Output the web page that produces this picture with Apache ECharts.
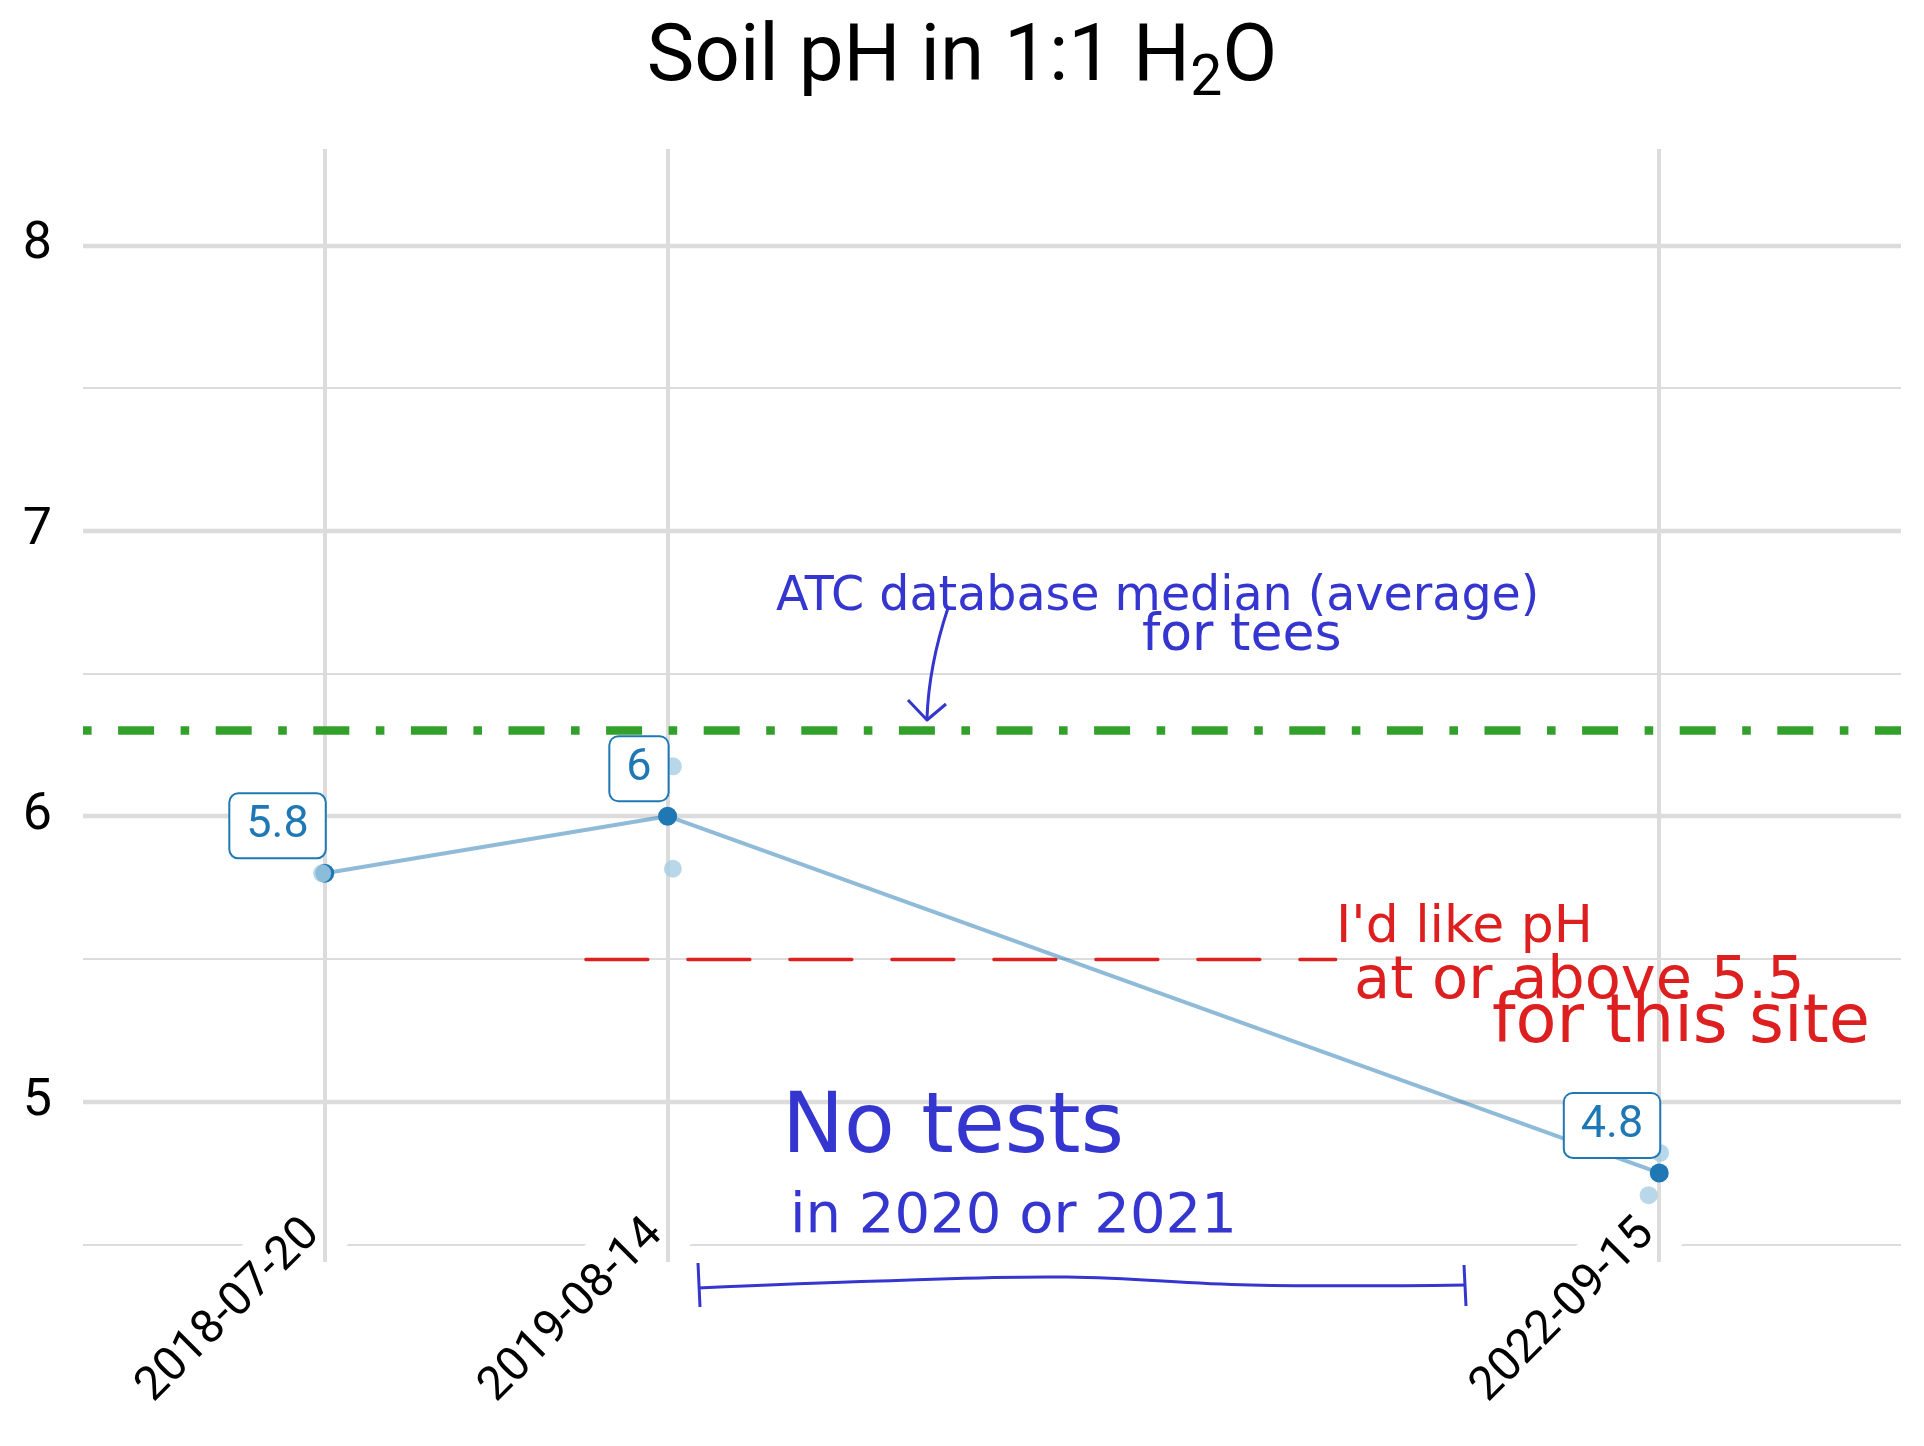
<!DOCTYPE html>
<html>
<head>
<meta charset="utf-8">
<script src="https://cdn.jsdelivr.net/npm/echarts@6/dist/echarts.min.js"></script>
<style>html,body{margin:0;padding:0;background:#fff}#c{width:1924px;height:1446px}</style>
</head>
<body>
<div id="c"></div>
<script>
// ---- data ----
const sampleDates = ['2018-07-20', '2019-08-14', '2022-09-15'];
const meanPH = [5.8, 6.0, 4.75];
const replicateGroup = [0, 1, 1, 2, 2];
const replicatePH = [5.80, 6.175, 5.816, 4.82, 4.672];
const replicateJitterDays = [-3, 6, 6, 1, -12];
const majorTicks = [5, 6, 7, 8];
const minorTicks = [4.5, 5.5, 6.5, 7.5];
const atcMedianPH = 6.3;
const targetPH = 5.5;
const targetSpan = ['2019-05-13', '2021-09-12'];
const yRange = [4.438, 8.338];
const xPadDays = 275;

const DAY = 86400000;
function ts(s) { return new Date(s + 'T00:00:00Z').getTime(); }
const dateTs = sampleDates.map(ts);
const xMin = dateTs[0] - xPadDays * DAY;
const xMax = dateTs[dateTs.length - 1] + xPadDays * DAY;

const meanData = dateTs.map((t, i) => [t, meanPH[i]]);
const repData = replicatePH.map((v, i) => [dateTs[replicateGroup[i]] + replicateJitterDays[i] * DAY, v]);

const GRID = '#dcdcdc';
const BLUE = '#1f78b4';
const HAND_BLUE = '#3535cf';
const HAND_RED = '#dd1f1f';
const HAND_FONT = '"DejaVu Sans", sans-serif';

function handText(text, x, baseline, size, color) {
  return {
    type: 'text', z: 100, silent: true,
    style: {
      text: text, x: x, y: baseline + 0.236 * size,
      font: size + 'px ' + HAND_FONT, fill: color,
      textAlign: 'left', textVerticalAlign: 'bottom'
    }
  };
}

const chart = echarts.init(document.getElementById('c'), null, { renderer: 'canvas' });
chart.setOption({
  animation: false,
  backgroundColor: '#fff',
  title: {
    left: 'center', top: 6,
    text: '{a|Soil pH in 1:1 H}{b|2}{a|O}',
    textStyle: {
      fontWeight: 'normal',
      rich: {
        a: { fontSize: 80, lineHeight: 98, fontFamily: 'Roboto', fontWeight: 'normal', color: '#000' },
        b: { fontSize: 57, lineHeight: 57, fontFamily: 'Roboto', fontWeight: 'normal', color: '#000', verticalAlign: 'bottom' }
      }
    }
  },
  grid: { left: 83, right: 23, top: 149, bottom: 184, containLabel: false },
  xAxis: {
    type: 'value', min: xMin, max: xMax, scale: true,
    axisLine: { show: false }, axisTick: { show: false }, splitLine: { show: false },
    axisLabel: {
      customValues: dateTs,
      rotate: 45, margin: -47,
      align: 'right', verticalAlign: 'middle',
      fontSize: 47, lineHeight: 48, fontFamily: 'Roboto', color: '#000',
      backgroundColor: '#fff', padding: [6, 17, 20, 0],
      formatter: function (v) {
        const i = dateTs.indexOf(v);
        return i >= 0 ? sampleDates[i] : '';
      }
    }
  },
  yAxis: {
    type: 'value', min: yRange[0], max: yRange[1],
    axisLine: { show: false }, axisTick: { show: false }, splitLine: { show: false },
    axisLabel: {
      customValues: majorTicks, margin: 31,
      fontSize: 52, fontFamily: 'Roboto', color: '#000',
      formatter: function (v) { return String(v); }
    }
  },
  series: [
    {
      name: 'hgrid', type: 'line', data: [], z: -1, silent: true,
      markLine: {
        z: -1, silent: true, symbol: 'none', label: { show: false }, animation: false,
        data: majorTicks.map(v => ({ yAxis: v, lineStyle: { color: GRID, width: 4.3, type: 'solid' } }))
          .concat(minorTicks.map(v => ({ yAxis: v, lineStyle: { color: GRID, width: 2, type: 'solid' } })))
      }
    },
    {
      name: 'vgrid', type: 'line', data: [], z: 1, silent: true,
      markLine: {
        z: 1, silent: true, symbol: 'none', label: { show: false }, animation: false,
        data: dateTs.map(t => ({ xAxis: t, lineStyle: { color: GRID, width: 4, type: 'solid' } }))
      }
    },
    {
      name: 'refs', type: 'line', data: [], z: 2, silent: true,
      markLine: {
        z: 2, silent: true, symbol: 'none', label: { show: false }, animation: false,
        data: [
          { yAxis: atcMedianPH, lineStyle: { color: '#33a02c', width: 8.7, type: [8.6, 26.5, 36, 26.5], cap: 'butt' } },
          [
            { coord: [ts(targetSpan[0]), targetPH], lineStyle: { color: HAND_RED, width: 3.3, type: [62, 40], cap: 'round' } },
            { coord: [ts(targetSpan[1]), targetPH] }
          ]
        ]
      }
    },
    {
      name: 'mean', type: 'line', data: meanData, z: 3,
      symbol: 'circle', symbolSize: 19, showSymbol: true,
      itemStyle: { color: BLUE, borderWidth: 0, opacity: 1 },
      lineStyle: { color: 'rgba(31,120,180,0.5)', width: 4 }
    },
    {
      name: 'replicates', type: 'scatter', data: repData, z: 4,
      symbol: 'circle', symbolSize: 18,
      itemStyle: { color: 'rgba(166,206,227,0.8)', opacity: 1, borderWidth: 0 }
    },
    {
      name: 'labels', type: 'scatter', data: meanData, z: 5,
      symbol: 'circle', symbolSize: 19,
      itemStyle: { color: 'rgba(0,0,0,0)', opacity: 1 },
      label: {
        show: true, position: 'top', distance: 6.5, align: 'right',
        formatter: p => String(Math.round(p.value[1] * 10) / 10),
        fontSize: 45, lineHeight: 45, fontFamily: 'Roboto', color: BLUE,
        backgroundColor: '#fff', borderColor: BLUE, borderWidth: 2, borderRadius: 8,
        padding: [9, 16]
      }
    }
  ],
  graphic: [
    handText('ATC database median (average)', 776, 610, 47.5, HAND_BLUE),
    handText('for tees', 1142, 650, 52, HAND_BLUE),
    {
      type: 'bezierCurve', z: 100, silent: true,
      shape: { x1: 948, y1: 608, cpx1: 934, cpy1: 650, cpx2: 928, cpy2: 690, x2: 927, y2: 718 },
      style: { stroke: HAND_BLUE, lineWidth: 3, fill: null }
    },
    {
      type: 'polyline', z: 100, silent: true,
      shape: { points: [[908, 700], [927, 720], [946, 704]] },
      style: { stroke: HAND_BLUE, lineWidth: 3, fill: null, lineJoin: 'round' }
    },
    handText("I'd like pH", 1336, 942, 52, HAND_RED),
    handText('at or above 5.5', 1354, 998, 59, HAND_RED),
    handText('for this site', 1492, 1042, 67, HAND_RED),
    handText('No tests', 782, 1152, 83, HAND_BLUE),
    handText('in 2020 or 2021', 790, 1232, 56, HAND_BLUE),
    {
      type: 'polyline', z: 100, silent: true,
      shape: { points: [[698, 1288], [880, 1281], [1067, 1277], [1250, 1285], [1465, 1285]], smooth: 0.4 },
      style: { stroke: HAND_BLUE, lineWidth: 3, fill: null }
    },
    {
      type: 'line', z: 100, silent: true,
      shape: { x1: 698, y1: 1263, x2: 700, y2: 1307 },
      style: { stroke: HAND_BLUE, lineWidth: 3 }
    },
    {
      type: 'line', z: 100, silent: true,
      shape: { x1: 1464, y1: 1265, x2: 1466, y2: 1306 },
      style: { stroke: HAND_BLUE, lineWidth: 3 }
    }
  ]
});
</script>
</body>
</html>
